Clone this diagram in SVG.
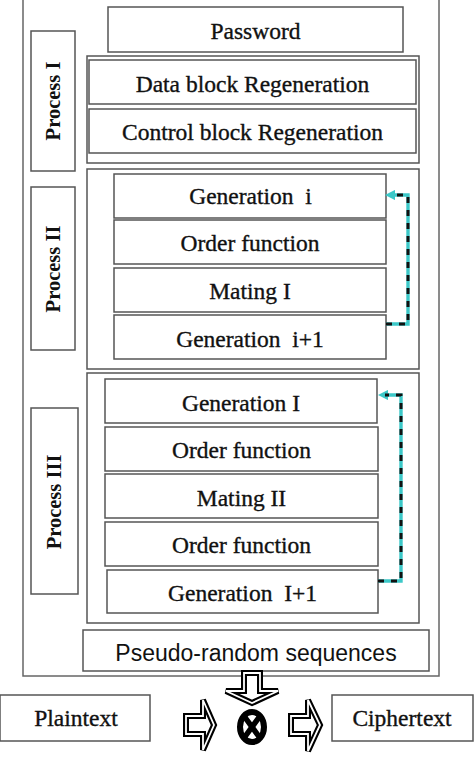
<svg xmlns="http://www.w3.org/2000/svg" width="474" height="774" viewBox="0 0 474 774">
<style>
.box{fill:#fff;stroke:#555;stroke-width:1.5}
.frame{fill:none;stroke:#666;stroke-width:1.5}
.t{font-family:"Liberation Serif","Times New Roman",serif;font-size:23.5px;fill:#111;stroke:#111;stroke-width:0.35;text-anchor:middle}
.s{font-family:"Liberation Sans",Arial,sans-serif;font-size:23px;fill:#111;text-anchor:middle}
.p{font-family:"Liberation Serif","Times New Roman",serif;font-size:20.5px;font-weight:bold;fill:#111;text-anchor:middle}
.cy{fill:none;stroke:#3cc8c8;stroke-width:3.4}
.bk{fill:none;stroke:#111;stroke-width:3;stroke-dasharray:6 7}
.arO{fill:#fff;stroke:#000;stroke-width:6;stroke-linejoin:miter}
.arI{fill:none;stroke:#fff;stroke-width:1.8;stroke-linejoin:miter}
</style>
<defs>
<marker id="ah" viewBox="0 0 10 10" refX="2" refY="5" markerWidth="3" markerHeight="3" orient="auto">
<path d="M0,0 L10,5 L0,10 z" fill="#3cc8c8"/>
</marker>
</defs>
<rect width="474" height="774" fill="#fff"/>
<rect id="outer" class="frame" x="23" y="-5" width="416" height="681"/>

<g id="password"><rect class="box" x="108" y="7" width="295" height="45"/><text class="t" x="255.5" y="39">Password</text></g>

<g id="process1-label"><rect class="box" x="31" y="31" width="44" height="140"/><text class="p" transform="translate(60,101) rotate(-90)">Process I</text></g>
<g id="process1"><rect class="box" x="87" y="56" width="332" height="107"/></g>
<g id="data-block"><rect class="box" x="89" y="60" width="327" height="44"/><text class="t" x="252.5" y="92">Data block Regeneration</text></g>
<g id="control-block"><rect class="box" x="89" y="109" width="327" height="44"/><text class="t" x="252.5" y="140">Control block Regeneration</text></g>

<g id="process2-label"><rect class="box" x="31" y="187" width="44" height="163"/><text class="p" transform="translate(60,269) rotate(-90)">Process II</text></g>
<g id="process2"><rect class="box" x="87" y="169" width="332" height="200"/></g>
<g id="gen-i"><rect class="box" x="114" y="174" width="272" height="44"/><text class="t" x="250.5" y="204" xml:space="preserve">Generation  i</text></g>
<g id="order1"><rect class="box" x="114" y="220" width="272" height="44"/><text class="t" x="250" y="251">Order function</text></g>
<g id="mating1"><rect class="box" x="114" y="268" width="272" height="44"/><text class="t" x="250" y="299">Mating I</text></g>
<g id="gen-i1"><rect class="box" x="114" y="315" width="272" height="44"/><text class="t" x="250" y="347" xml:space="preserve">Generation  i+1</text></g>

<g id="process3-label"><rect class="box" x="31" y="408" width="47" height="186"/><text class="p" transform="translate(61,502) rotate(-90)">Process III</text></g>
<g id="process3"><rect class="box" x="87" y="373" width="332" height="250"/></g>
<g id="gen-I"><rect class="box" x="105" y="379" width="272" height="44"/><text class="t" x="241" y="411">Generation I</text></g>
<g id="order2"><rect class="box" x="105" y="427" width="273" height="44"/><text class="t" x="241.5" y="458">Order function</text></g>
<g id="mating2"><rect class="box" x="105" y="474" width="273" height="44"/><text class="t" x="241.5" y="506">Mating II</text></g>
<g id="order3"><rect class="box" x="105" y="522" width="273" height="44"/><text class="t" x="241.5" y="553">Order function</text></g>
<g id="gen-I1"><rect class="box" x="107" y="570" width="271" height="43"/><text class="t" x="242.5" y="601" xml:space="preserve">Generation  I+1</text></g>

<g id="pseudo"><rect class="box" x="83" y="630" width="346" height="41"/><text class="s" x="256" y="661">Pseudo-random sequences</text></g>

<g id="plaintext"><rect class="box" x="0" y="695" width="150" height="46"/><text class="t" x="76" y="726">Plaintext</text></g>
<g id="ciphertext"><rect class="box" x="332" y="695" width="141" height="46"/><text class="t" x="402" y="726">Ciphertext</text></g>

<g id="xor">
<ellipse cx="252" cy="727" rx="12" ry="15" fill="#fff" stroke="#000" stroke-width="6"/>
<path d="M244,716 L260,738 M260,716 L244,738" stroke="#000" stroke-width="5.5"/>
</g>

<g id="connectors">
<path class="cy" d="M386,324 H408 V195 H393" marker-end="url(#ah)"/>
<path class="bk" d="M386,324 H408 V195 H392"/>
<path class="cy" d="M378,581 H401 V395 H386" marker-end="url(#ah)"/>
<path class="bk" d="M378,581 H401 V395 H385"/>
<g id="arrow-down">
<path class="arO" d="M244,673 H260 V691 H278 L252,703 L226,691 H244 Z"/>
<path class="arI" d="M244,673 H260 V691 H278 L252,703 L226,691 H244 Z"/>
</g>
<g id="arrow-left">
<path class="arO" d="M186,716 H203 V700 L214,725 L203,750 V734 H186 Z"/>
<path class="arI" d="M186,716 H203 V700 L214,725 L203,750 V734 H186 Z"/>
</g>
<g id="arrow-right">
<path class="arO" d="M291,716 H308 V700 L320,725 L308,751 V734 H291 Z"/>
<path class="arI" d="M291,716 H308 V700 L320,725 L308,751 V734 H291 Z"/>
</g>
</g>
</svg>
